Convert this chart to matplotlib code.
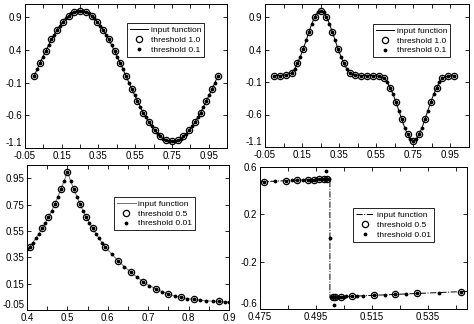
import numpy as np
import matplotlib
matplotlib.use("Agg")
import matplotlib.pyplot as plt
from matplotlib.ticker import MultipleLocator, FixedLocator

plt.rcParams["font.family"] = ["Liberation Sans", "DejaVu Sans"]

# --- sine wave, sampled on a 1/64 grid (threshold 0.1) ---
x1 = np.arange(65) / 64
y1 = [0.00, 0.10, 0.20, 0.29, 0.38, 0.47, 0.56, 0.63, 0.71, 0.77, 0.83, 0.88, 0.92,
      0.96, 0.98, 0.99, 1.00, 0.99, 0.98, 0.96, 0.92, 0.88, 0.83, 0.77, 0.71, 0.63,
      0.56, 0.47, 0.38, 0.29, 0.20, 0.10, 0.00, -0.10, -0.20, -0.29, -0.38, -0.47,
      -0.56, -0.63, -0.71, -0.77, -0.83, -0.88, -0.92, -0.96, -0.98, -0.99, -1.00,
      -0.99, -0.98, -0.96, -0.92, -0.88, -0.83, -0.77, -0.71, -0.63, -0.56, -0.47,
      -0.38, -0.29, -0.20, -0.10, 0.00]
x1_coarse = np.arange(33) / 32

# --- two gaussian bumps ---
x2 = [0, 0.03125, 0.0625, 0.09375, 0.109375, 0.125, 0.140625, 0.15625, 0.171875,
      0.1875, 0.203125, 0.21875, 0.234375, 0.25, 0.265625, 0.28125, 0.296875, 0.3125,
      0.328125, 0.34375, 0.359375, 0.375, 0.390625, 0.40625, 0.4375, 0.46875, 0.5,
      0.53125, 0.5625, 0.59375, 0.609375, 0.625, 0.640625, 0.65625, 0.671875, 0.6875,
      0.703125, 0.71875, 0.734375, 0.75, 0.765625, 0.78125, 0.796875, 0.8125, 0.828125,
      0.84375, 0.859375, 0.875, 0.890625, 0.90625, 0.9375, 0.96875]
y2 = [0.00, 0.00, 0.01, 0.04, 0.10, 0.19, 0.29, 0.41, 0.54, 0.675, 0.80, 0.905, 0.975,
      1.00, 0.975, 0.905, 0.80, 0.675, 0.54, 0.41, 0.29, 0.19, 0.10, 0.04, 0.01, 0.00,
      0.00, 0.00, -0.01, -0.04, -0.10, -0.19, -0.29, -0.41, -0.54, -0.675, -0.80,
      -0.905, -0.975, -1.00, -0.975, -0.905, -0.80, -0.675, -0.54, -0.41, -0.29, -0.19,
      -0.10, -0.04, -0.01, 0.00]
x2_coarse = np.arange(33) / 32

# --- exponential peak ---
x3 = [0.40, 0.40625, 0.4140625, 0.421875, 0.4296875, 0.4375, 0.4453125, 0.453125,
      0.4609375, 0.46875, 0.4765625, 0.484375, 0.4921875, 0.5, 0.5078125, 0.515625,
      0.5234375, 0.53125, 0.5390625, 0.546875, 0.5546875, 0.5625, 0.5703125, 0.578125,
      0.5859375, 0.59375, 0.609375, 0.625, 0.640625, 0.65625, 0.671875, 0.6875,
      0.703125, 0.71875, 0.734375, 0.75, 0.765625, 0.78125, 0.796875, 0.8125, 0.828125,
      0.84375, 0.859375, 0.875, 0.890625, 0.90]
y3 = [0.41, 0.43, 0.46, 0.495, 0.53, 0.57, 0.61, 0.655, 0.70, 0.755, 0.81, 0.87, 0.93,
      1.00, 0.93, 0.87, 0.81, 0.755, 0.70, 0.655, 0.61, 0.57, 0.53, 0.495, 0.46, 0.43,
      0.375, 0.325, 0.28, 0.24, 0.20, 0.165, 0.135, 0.11, 0.09, 0.07, 0.057, 0.045,
      0.037, 0.03, 0.025, 0.02, 0.017, 0.015, 0.012, 0.011]
x3_coarse = [0.40625, 0.4375, 0.453125, 0.46875, 0.484375, 0.5, 0.515625, 0.53125,
             0.546875, 0.5625, 0.59375, 0.625, 0.65625, 0.6875, 0.71875, 0.75,
             0.78125, 0.8125, 0.875]

# --- step function with a jump at 0.5 ---
x4_line = [0.475, 0.5, 0.5, 0.55]
y4_line = [0.475, 0.5, -0.5, -0.45]
x4 = [0.4765625, 0.48046875, 0.484375, 0.486328125, 0.48828125, 0.490234375,
      0.4921875, 0.4931640625, 0.494140625, 0.4951171875, 0.49609375, 0.4970703125,
      0.498046875, 0.49853515625, 0.4990234375, 0.49951171875, 0.4987, 0.5, 0.5014,
      0.50048828125, 0.5009765625, 0.50146484375, 0.501953125, 0.5029296875,
      0.50390625, 0.5048828125, 0.505859375, 0.5078125, 0.509765625, 0.51171875,
      0.515625, 0.51953125, 0.5234375, 0.52734375, 0.53125, 0.5390625, 0.546875]
y4 = [0.477, 0.480, 0.484, 0.486, 0.488, 0.490, 0.492, 0.493, 0.494, 0.495, 0.496,
      0.497, 0.498, 0.499, 0.499, 0.500, 0.565, 0.00, -0.565,
      -0.500, -0.499, -0.499, -0.498, -0.497, -0.496, -0.495, -0.494, -0.492, -0.490,
      -0.488, -0.484, -0.480, -0.477, -0.473, -0.469, -0.461, -0.453]
x4_coarse = [0.4765625, 0.484375, 0.48828125, 0.4921875, 0.494140625, 0.49609375,
             0.498046875, 0.4990234375, 0.5009765625, 0.501953125, 0.50390625,
             0.5078125, 0.515625, 0.5234375, 0.53125, 0.546875]

W, H = 474, 324
fig = plt.figure(figsize=(W / 100, H / 100), dpi=100)


def add_axes(l, r, t, b):
    return fig.add_axes([l / W, 1 - b / H, (r - l) / W, (b - t) / H])


def style(ax):
    ax.tick_params(direction="in", length=3, width=0.6, labelsize=7, pad=2,
                   top=True, right=True, which="both")
    for s in ax.spines.values():
        s.set_linewidth(0.7)
    # lift the lowest y label so it clears the x labels
    ax.get_yticklabels()[0].set_va("bottom")


def draw(ax, lx, ly, x, y, xc, labels, ls="-", lc="black"):
    x = np.asarray(x)
    y = np.asarray(y)
    coarse = np.isin(np.round(x, 8), np.round(np.asarray(xc), 8))
    ax.plot(lx, ly, ls, color=lc, lw=0.7, label=labels[0])
    ax.plot(x[coarse], y[coarse], "o", ms=4.5, mfc="none", mec="black", mew=0.9,
            label=labels[1])
    ax.plot(x, y, ".", ms=3.5, color="black", label=labels[2])


def legend(ax, anchor):
    leg = ax.legend(loc="upper right", bbox_to_anchor=anchor, fontsize=6,
                    fancybox=False, framealpha=1, edgecolor="black",
                    handlelength=2.2, handletextpad=0.3, borderpad=0.35,
                    labelspacing=0.25, borderaxespad=0)
    leg.get_frame().set_linewidth(0.6)


# top left
ax1 = add_axes(25, 227, 4, 148)
draw(ax1, x1, y1, x1, y1, x1_coarse,
     ["input function", "threshold 1.0", "threshold 0.1"])
ax1.set_xlim(-0.05, 1.05)
ax1.set_ylim(-1.1, 1.1)
ax1.set_xticks(np.arange(-0.05, 1.0, 0.2))
ax1.set_xticklabels(["-0.05", "0.15", "0.35", "0.55", "0.75", "0.95"])
ax1.xaxis.set_minor_locator(FixedLocator(np.arange(0.05, 1.05, 0.2)))
ax1.set_yticks([-1.1, -0.6, -0.1, 0.4, 0.9])
ax1.set_yticklabels(["-1.1", "-0.6", "-0.1", "0.4", "0.9"])
style(ax1)
legend(ax1, (0.886, 0.868))

# top right
ax2 = add_axes(265, 469, 4, 147)
draw(ax2, x2, y2, x2, y2, x2_coarse,
     ["input function", "threshold 1.0", "threshold 0.1"])
ax2.set_xlim(-0.05, 1.05)
ax2.set_ylim(-1.1, 1.1)
ax2.set_xticks(np.arange(-0.05, 1.0, 0.2))
ax2.set_xticklabels(["-0.05", "0.15", "0.35", "0.55", "0.75", "0.95"])
ax2.xaxis.set_minor_locator(FixedLocator(np.arange(0.05, 1.05, 0.2)))
ax2.set_yticks([-1.1, -0.6, -0.1, 0.4, 0.9])
ax2.set_yticklabels(["-1.1", "-0.6", "-0.1", "0.4", "0.9"])
style(ax2)
legend(ax2, (0.907, 0.861))

# bottom left
ax3 = add_axes(27, 229, 165, 310)
draw(ax3, x3, y3, x3, y3, x3_coarse,
     ["input function", "threshold 0.5", "threshold 0.01"], lc="0.45")
ax3.set_xlim(0.4, 0.9)
ax3.set_ylim(-0.05, 1.05)
ax3.set_xticks([0.4, 0.5, 0.6, 0.7, 0.8, 0.9])
ax3.set_xticklabels(["0.4", "0.5", "0.6", "0.7", "0.8", "0.9"])
ax3.xaxis.set_minor_locator(MultipleLocator(0.05))
ax3.set_yticks([-0.05, 0.15, 0.35, 0.55, 0.75, 0.95])
ax3.set_yticklabels(["-0.05", "0.15", "0.35", "0.55", "0.75", "0.95"])
style(ax3)
legend(ax3, (0.832, 0.78))

# bottom right
ax4 = add_axes(260, 467, 167, 309)
draw(ax4, x4_line, y4_line, x4, y4, x4_coarse,
     ["input function", "threshold 0.5", "threshold 0.01"], ls="-.")
ax4.set_xlim(0.475, 0.549)
ax4.set_ylim(-0.6, 0.6)
ax4.set_xticks([0.475, 0.495, 0.515, 0.535])
ax4.set_xticklabels(["0.475", "0.495", "0.515", "0.535"])
ax4.xaxis.set_minor_locator(FixedLocator([0.485, 0.505, 0.525, 0.545]))
ax4.set_yticks([-0.6, -0.2, 0.2, 0.6])
ax4.set_yticklabels(["-0.6", "-0.2", "0.2", "0.6"])
style(ax4)
legend(ax4, (0.84, 0.71))

fig.savefig("out.png", dpi=100)
